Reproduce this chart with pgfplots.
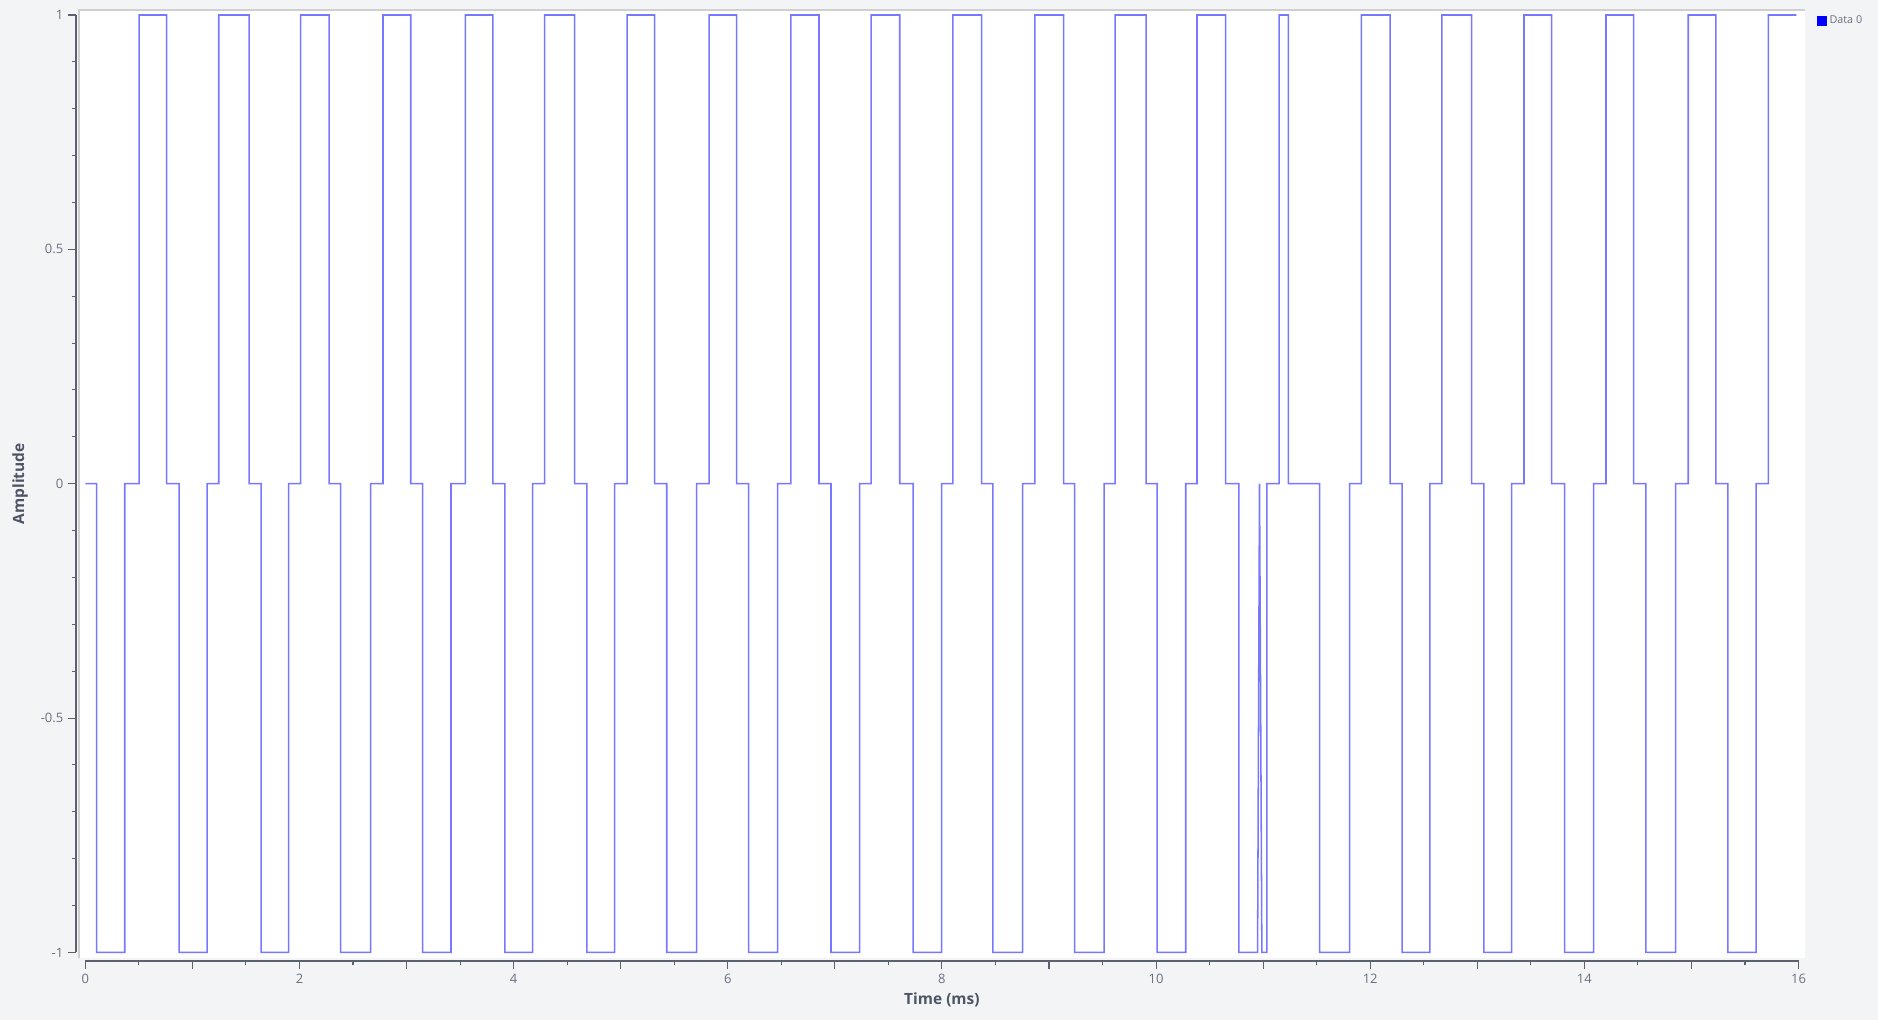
\documentclass[border=0pt]{standalone}
\usepackage{pgfplots}
\pgfplotsset{compat=1.18}
\usepackage{fontspec}
\setmainfont{Open Sans}

\definecolor{bg}{HTML}{F3F4F6}
\definecolor{frame}{HTML}{CFCFCF}
\definecolor{axisc}{HTML}{5C6170}
\definecolor{tickc}{HTML}{6B7080}
\definecolor{titlec}{HTML}{4E5464}
\definecolor{sig}{HTML}{7878FF}

\begin{document}
\begin{tikzpicture}
% page and plot area (1px = 0.75pt)
\fill[bg] (0,0) rectangle (1408.5pt,765pt);
\useasboundingbox (0,0) rectangle (1408.5pt,765pt);
\fill[white] (59.25pt,46.5pt) rectangle (1353.75pt,757.5pt);
\draw[frame, line width=1.3pt] (59.25pt,46.5pt) -- (59.25pt,757.5pt) -- (1353.75pt,757.5pt);

\begin{axis}[
    at={(64pt,50.7pt)}, anchor=south west,
    scale only axis,
    width=1284.9pt, height=703.05pt,
    xmin=0, xmax=16, ymin=-1, ymax=1,
    clip=false,
    axis x line*=bottom, axis y line*=left,
    axis x line shift=6.45pt, axis y line shift=7pt,
    x axis line style={-, axisc, line width=0.9pt},
    y axis line style={-, axisc, line width=0.9pt},
    tick align=outside,
    major tick length=6pt, minor tick length=3.3pt,
    every tick/.style={axisc, line width=0.8pt},
    xtick={0,...,16},
    xticklabels={0,,2,,4,,6,,8,,10,,12,,14,,16},
    minor x tick num=1,
    ytick={-1,-0.5,0,0.5,1},
    yticklabels={-1,-0.5,0,0.5,1},
    minor y tick num=4,
    /pgf/number format/assume math mode=true,
    ticklabel style={font=\fontsize{9.75}{11}\selectfont, text=tickc},
    xlabel={Time (ms)}, ylabel={Amplitude},
    every axis x label/.style={at={(axis description cs:0.5,0)}, anchor=center,
        yshift=-35.7pt, font=\fontsize{11.6}{13}\selectfont\bfseries, text=titlec},
    every axis y label/.style={at={(axis description cs:0,0.5)}, xshift=-49pt,
        anchor=center, rotate=90, font=\fontsize{11.6}{13}\selectfont\bfseries, text=titlec},
    legend style={draw=none, fill=none, inner sep=0pt, outer sep=0pt,
        at={(axis description cs:1.0108,0.9936)}, anchor=west,
        font=\fontsize{8.1}{9}\selectfont, text=tickc},
    legend image code/.code={\fill[blue] (0pt,-3.1pt) rectangle (6.2pt,3.1pt);},
]
\addplot[sig, line width=1.15pt] coordinates {
(0,0) (0.106,0) (0.106,-1) (0.368,-1) (0.368,0) (0.502,0) (0.502,1) (0.760,1) (0.760,0)
(0.875,0) (0.875,-1) (1.137,-1) (1.137,0) (1.246,0) (1.246,1) (1.529,1) (1.529,0)
(1.641,0) (1.641,-1) (1.899,-1) (1.899,0) (2.011,0) (2.011,1) (2.276,1) (2.276,0)
(2.385,0) (2.385,-1) (2.665,-1) (2.665,0) (2.780,0) (2.780,1) (3.039,1) (3.039,0)
(3.151,0) (3.151,-1) (3.415,-1) (3.415,0) (3.549,0) (3.549,1) (3.807,1) (3.807,0)
(3.918,0) (3.918,-1) (4.178,-1) (4.178,0) (4.290,0) (4.290,1) (4.570,1) (4.570,0)
(4.685,0) (4.685,-1) (4.944,-1) (4.944,0) (5.059,0) (5.059,1) (5.317,1) (5.317,0)
(5.430,0) (5.430,-1) (5.710,-1) (5.710,0) (5.825,0) (5.825,1) (6.083,1) (6.083,0)
(6.195,0) (6.195,-1) (6.466,-1) (6.466,0) (6.590,0) (6.590,1) (6.852,1) (6.852,0)
(6.964,0) (6.964,-1) (7.232,-1) (7.232,0) (7.338,0) (7.338,1) (7.606,1) (7.606,0)
(7.730,0) (7.730,-1) (7.998,-1) (7.998,0) (8.103,0) (8.103,1) (8.371,1) (8.371,0)
(8.476,0) (8.476,-1) (8.754,-1) (8.754,0) (8.869,0) (8.869,1) (9.137,1) (9.137,0)
(9.240,0) (9.240,-1) (9.514,-1) (9.514,0) (9.617,0) (9.617,1) (9.906,1) (9.906,0)
(10.009,0) (10.009,-1) (10.277,-1) (10.277,0) (10.382,0) (10.382,1) (10.650,1) (10.650,0)
(10.774,0) (10.774,-1) (10.948,-1) (10.966,0) (10.988,-1) (11.035,-1) (11.035,0)
(11.150,0) (11.150,1) (11.235,1) (11.235,0) (11.528,0) (11.528,-1) (11.808,-1) (11.808,0)
(11.917,0) (11.917,1) (12.185,1) (12.185,0) (12.297,0) (12.297,-1) (12.556,-1) (12.556,0)
(12.670,0) (12.670,1) (12.947,1) (12.947,0) (13.062,0) (13.062,-1) (13.321,-1) (13.321,0)
(13.436,0) (13.436,1) (13.695,1) (13.695,0) (13.816,0) (13.816,-1) (14.087,-1) (14.087,0)
(14.202,0) (14.202,1) (14.460,1) (14.460,0) (14.575,0) (14.575,-1) (14.852,-1) (14.852,0)
(14.970,0) (14.970,1) (15.229,1) (15.229,0) (15.341,0) (15.341,-1) (15.604,-1) (15.604,0)
(15.719,0) (15.719,1) (15.980,1)
};
\addlegendentry{Data 0}
\end{axis}
\end{tikzpicture}
\end{document}
